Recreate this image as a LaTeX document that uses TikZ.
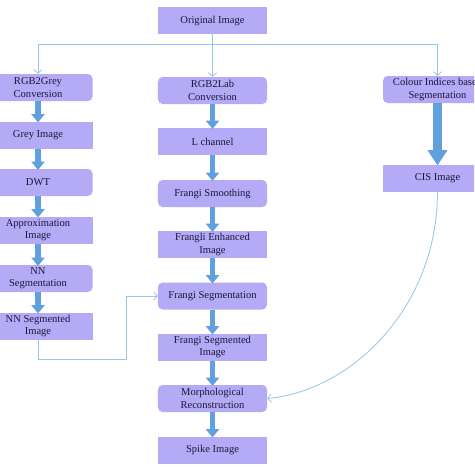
\documentclass[tikz,border=0pt]{standalone}
\usepackage{fontspec}
\setmainfont{Liberation Serif}
\usetikzlibrary{arrows.meta}
\definecolor{boxfill}{RGB}{181,170,245}
\definecolor{txtnavy}{RGB}{25,25,60}
\definecolor{fatblue}{RGB}{96,160,222}
\definecolor{thinblue}{RGB}{150,200,230}
\tikzset{
  box/.style={rectangle,fill=boxfill,minimum width=3.27cm,minimum height=0.81cm,
    inner sep=1pt,align=center,text=txtnavy,font=\fontsize{9}{10.5}\selectfont},
  rbox/.style={box,rounded corners=4pt},
  fat/.style={draw=fatblue,line width=4.5pt,-{Triangle[length=7pt,width=11pt]},shorten >=-1pt},
  fatter/.style={draw=fatblue,line width=8pt,-{Triangle[length=13pt,width=16pt]},shorten >=-1pt},
  thin/.style={draw=thinblue,line width=0.7pt,-{Straight Barb[length=3pt,width=7pt]}}
}

\begin{document}
\begin{tikzpicture}[x=0.03cm,y=-0.03cm]
  \clip (0,0) rectangle (474,474);
  \fill[white] (0,0) rectangle (474,474);

  \node[box] (orig) at (212.5,20.5) {Original Image};

  % left column
  \foreach \pos/\name/\style/\txt in {
      {(38,87.5)/rgbgrey/rbox/{RGB2Grey\\Conversion}},
      {(38,135)/grey/box/{Grey Image}},
      {(38,182.5)/dwt/rbox/{DWT}},
      {(38,230)/approx/box/{Approximation\\Image}},
      {(38,278.5)/nnseg/rbox/{NN\\Segmentation}},
      {(38,326)/nnsegimg/box/{NN Segmented\\Image}}}
        \node[\style] (\name) at \pos {\txt};

  % middle column
  \foreach \pos/\name/\style/\txt in {
      {(212.5,90.5)/rgblab/rbox/{RGB2Lab\\Conversion}},
      {(212.5,141.5)/lchan/box/{L channel}},
      {(212.5,193.5)/smooth/rbox/{Frangi Smoothing}},
      {(212.5,244.5)/enh/box/{Frangli Enhanced\\Image}},
      {(212.5,296)/fseg/rbox/{Frangi Segmentation}},
      {(212.5,347)/fsegimg/box/{Frangi Segmented\\Image}},
      {(212.5,398.5)/morph/rbox/{Morphological\\Reconstruction}},
      {(212.5,450)/spike/box/{Spike Image}}}
        \node[\style] (\name) at \pos {\txt};

  % right column
  \node[rbox] (cisseg) at (437.5,89.5) {Colour Indices based\\Segmentation};
  \node[box] (cisimg) at (437.5,178) {CIS Image};

  \foreach \from/\to in {rgbgrey/grey, grey/dwt, dwt/approx, approx/nnseg, nnseg/nnsegimg,
      rgblab/lchan, lchan/smooth, smooth/enh, enh/fseg, fseg/fsegimg, fsegimg/morph, morph/spike}
	\draw [fat] (\from) -- (\to);
  \draw [fatter] (cisseg) -- (cisimg);

  \coordinate (split) at (212.5,44);
  \draw [thin] (orig) -- (rgblab);
  \draw [thin] (split) -| (rgbgrey);
  \draw [thin] (split) -| (cisseg);
  \draw [thin] (nnsegimg.south) |- (126,359) |- (fseg.west);
  \draw [thin] (cisimg.south) .. controls +(0,115) and +(85,-8) .. (morph.east);
\end{tikzpicture}
\end{document}
